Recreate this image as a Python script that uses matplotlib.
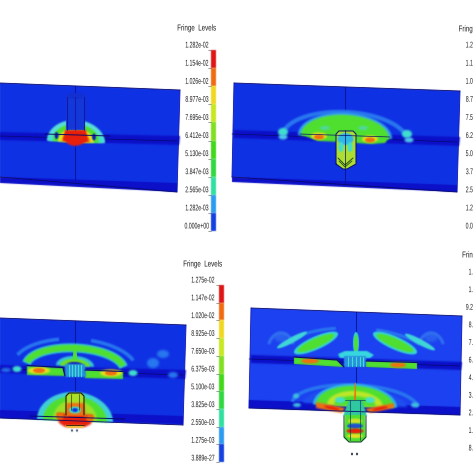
#!/usr/bin/python3
# fringe plots of the four stud/plate cases, drawn in image pixel coordinates
import numpy as np
import matplotlib
matplotlib.use("Agg")
import matplotlib.pyplot as plt
from matplotlib.patches import Polygon
from matplotlib.patheffects import AbstractPathEffect
from matplotlib.transforms import Affine2D

plt.rcParams['font.family'] = ['Liberation Sans', 'DejaVu Sans']

title = "Fringe  Levels"
levels_a = ["1.282e-02", "1.154e-02", "1.026e-02", "8.977e-03", "7.695e-03", "6.412e-03",
            "5.130e-03", "3.847e-03", "2.565e-03", "1.282e-03", "0.000e+00"]
# the right hand panels run off the picture, only these characters are visible
levels_b = ["1.2", "1.1", "1.0", "8.7", "7.5", "6.2", "5.0", "3.7", "2.5", "1.2", "0.0"]
title_b = "Fring"
levels_c = ["1.275e-02", "1.147e-02", "1.020e-02", "8.925e-03", "7.650e-03", "6.375e-03",
            "5.100e-03", "3.825e-03", "2.550e-03", "1.275e-03", "3.889e-27"]
levels_d = ["1.", "1.", "9.2", "8.", "7.", "6.", "4.", "3.", "2.", "1.", "8."]
title_d = "Frin"

# fringe colours, top of the bar to the bottom
bar_colors = ['#e01414', '#f06a10', '#f0d820', '#c8e820', '#80e020', '#40d818',
              '#30d840', '#30e0a0', '#2c9cf0', '#1440e0']

RED, ORANGE, YELLOW, LIME, GREEN, CYAN, PALE, PLATE, DARK = (
    '#e8200c', '#f07010', '#e8e020', '#a8e828', '#50e030', '#40e0d0', '#2878f0', '#0e30e4', '#0c10c8')
LINE = '#08086a'


def blur(sigma):
    # gaussian blur for agg_filter, so the edges go soft like the scanned figure
    def flt(img, dpi):
        s = sigma * dpi / 100.
        pad = int(3 * s) + 1
        x = np.arange(-pad, pad + 1)
        k = np.exp(-x ** 2 / (2 * s ** 2))
        k /= k.sum()
        h, w = img.shape[:2]
        out = np.zeros((h + 2 * pad, w + 2 * pad, 4))
        a = img[..., 3:]
        out[pad:pad + h, pad:pad + w, :3] = img[..., :3] * a
        out[pad:pad + h, pad:pad + w, 3] = a[..., 0]
        out = np.apply_along_axis(np.convolve, 0, out, k, mode='same')
        out = np.apply_along_axis(np.convolve, 1, out, k, mode='same')
        al = np.clip(out[..., 3:], 1e-4, None)
        out[..., :3] = np.clip(out[..., :3] / al, 0, 1)
        return out, -pad, -pad
    return flt


class Squeeze(AbstractPathEffect):
    # narrows the glyphs about the text anchor, the figure uses a condensed face
    def __init__(self, x_disp, factor):
        super().__init__()
        self.x_disp = x_disp
        self.factor = factor

    def draw_path(self, renderer, gc, tpath, affine, rgbFace=None):
        squeeze = Affine2D().translate(-self.x_disp, 0).scale(self.factor, 1).translate(self.x_disp, 0)
        renderer.draw_path(gc, tpath, affine + squeeze, rgbFace)


fig = plt.figure(figsize=(4.74, 4.74), dpi=100)
ax = fig.add_axes([0, 0, 1, 1])
ax.set_xlim(0, 474)
ax.set_ylim(474, 0)
ax.axis('off')


def poly(pts, color, soft=0.8, z=3):
    p = Polygon(pts, closed=True, fc=color, ec='none', zorder=z)
    p.set_agg_filter(blur(soft))
    ax.add_patch(p)


def line(xs, ys, color=LINE, lw=0.8, z=6):
    l, = ax.plot(xs, ys, color=color, lw=lw, zorder=z, solid_capstyle='round')
    l.set_agg_filter(blur(0.35))


def dome(cx, cy, rx, ry, color, soft=0.8, slope=0.04, z=3):
    # half ellipse sitting on the tilted band
    t = np.linspace(0, np.pi, 40)
    x = rx * np.cos(t)
    y = -ry * np.sin(t)
    poly(np.c_[cx + x, cy + y + slope * x], color, soft, z)


def blob(cx, cy, rx, ry, color, angle=0, soft=0.7, z=4):
    t = np.linspace(0, 2 * np.pi, 40)
    a = np.radians(angle)
    x = rx * np.cos(t)
    y = ry * np.sin(t)
    poly(np.c_[cx + x * np.cos(a) - y * np.sin(a), cy + x * np.sin(a) + y * np.cos(a)], color, soft, z)


def arc(cx, cy, rx, ry, color, lw=2.5, t0=15, t1=165, slope=0.04, z=3):
    t = np.radians(np.linspace(t0, t1, 40))
    x = rx * np.cos(t)
    l, = ax.plot(cx + x, cy - ry * np.sin(t) + slope * x, color=color, lw=lw, zorder=z,
                 solid_capstyle='butt')
    l.set_agg_filter(blur(0.8))


def plate(tl, tr, br, bl, band_l, band_r, low_l, low_r, vx, color=PLATE):
    poly([tl, tr, br, bl], color, 0.4, 1)
    poly([(tl[0], band_l[0]), (tr[0], band_r[0]), (tr[0] - 1, band_r[1]), (tl[0], band_l[1])], DARK, 0.8, 2)
    poly([(bl[0], low_l[0]), (br[0], low_r[0]), (br[0], low_r[1]), (bl[0], low_l[1])], DARK, 0.5, 2)
    line([tl[0], tr[0]], [tl[1], tr[1]], LINE, 0.6)
    line([bl[0], br[0]], [bl[1], br[1]], LINE, 0.6)
    if tl[0] > 5:
        line([tl[0], bl[0]], [tl[1], bl[1]], '#0a10b0', 0.6)
    line([tr[0], br[0]], [tr[1], br[1]], '#0a10b0', 0.6)
    line([bl[0], br[0]], [band_l[1] - 4, band_r[1] - 4], LINE, 0.5, 2.5)
    line([vx, vx], [tl[1] + (vx - tl[0]) * 0.035, bl[1] + (vx - bl[0]) * 0.065], '#0a14a0', 0.7, 2.5)


def write(labels, head, lx, ly0, ly1, tx, ty, ha='center'):
    for lab, y in zip(labels, np.linspace(ly0, ly1, len(labels))):
        put(lx, y, lab, 6.0, ha, 0.62)
    put(tx, ty, head, 6.2, ha, 0.72)


def put(x, y, s, size, ha, factor):
    t = ax.text(x, y, s, fontsize=size, ha=ha, va='center', color='#1a1a1a', zorder=7)
    t.set_path_effects([Squeeze(ax.transData.transform((x, y))[0], factor)])
    t.set_agg_filter(blur(0.3))


def fringe_bar(x0, x1, y0, y1):
    edges = np.linspace(y0, y1, len(bar_colors) + 1)
    for c, a, b in zip(bar_colors, edges[:-1], edges[1:]):
        poly([(x0, a), (x1, a), (x1, b), (x0, b)], c, 0.6, 2)
    for e in edges:
        line([x0 - 3, x0], [e, e], '#505050', 0.4)


# ---- top left
plate((0, 83), (180, 90), (177, 192), (0, 177), (132, 140), (136, 145), (177, 183), (183, 192), 75)
dome(76, 142, 29, 22, '#58e0d8')
dome(76, 142, 24, 18, GREEN)
dome(76, 142, 18, 14, YELLOW)
dome(76, 142, 14, 11, ORANGE)
poly([(65, 130), (86, 130), (88, 141), (80, 145), (75, 146), (70, 145), (63, 140)], RED, 0.8, 4)
blob(56.5, 135.5, 1.8, 3.5, DARK)
blob(94, 137, 1.8, 3.5, DARK)
blob(51, 138, 2.5, 3, CYAN, soft=1)
blob(101, 140, 2.5, 3, CYAN, soft=1)
poly([(66, 97), (85, 97), (85, 130), (66, 130)], '#1438d8', 0.5, 5)
blob(75.5, 96, 9.5, 3, '#1430d0', soft=0.5, z=5)
line([67, 67], [97, 130], '#1010a0', 0.6)
line([84, 84], [97, 130], '#1010a0', 0.6)
line([75, 75], [97, 130], '#1010a0', 0.5)
line([45, 110], [134, 136], LINE, 0.7)
fringe_bar(211.5, 216.5, 50, 231)
write(levels_a, title, 197, 46, 227, 197, 28)

# ---- top right
plate((234, 83), (460, 91), (457, 192), (232, 177), (130, 138), (137, 146), (177, 182), (185, 192), 345)
arc(345, 140, 63, 28, PALE, 3.0)
blob(283, 132, 5, 4, CYAN, soft=1)
blob(283, 137, 4.5, 2.5, '#50c8f0', soft=1)
blob(407, 134, 5, 4, CYAN, soft=1)
blob(409, 140, 4.5, 2.5, '#50c8f0', soft=1)
dome(345, 137, 47, 24, '#38b0e8', soft=1.0)
dome(345, 137, 44, 22, GREEN)
blob(325, 128, 5, 2, '#50d8a0', soft=1)
blob(363, 128, 5, 2, '#50d8a0', soft=1)
poly([(300, 134), (390, 137), (385, 143), (372, 144), (340, 142), (318, 141)], GREEN, 0.8, 3)
blob(319, 137, 5, 2.5, ORANGE)
blob(370, 140, 5, 2.5, ORANGE)
blob(319, 136, 8, 3.5, YELLOW, soft=1, z=3)
blob(370, 139, 8, 3.5, YELLOW, soft=1, z=3)
line([300, 390], [134, 137], LINE, 0.5)
poly([(336, 134), (339, 131), (353, 131), (356, 134), (356, 164), (347, 169), (343, 169), (336, 164)],
     '#b0e030', 0.4, 5)
blob(345.5, 139, 8, 6, '#30b8e8', z=5)
blob(341, 147, 2.5, 5, CYAN, z=5)
blob(350, 147, 2.5, 5, CYAN, z=5)
line([336, 336, 339, 353, 356, 356, 347, 343, 336], [164, 134, 131, 131, 134, 164, 169, 169, 164], LINE, 0.7)
line([345, 345], [130, 168], LINE, 0.5)
line([338, 345, 353], [158, 165, 158], '#0a3010', 0.6)
line([339, 345, 352], [161, 167, 161], '#0a3010', 0.5)
write(levels_b, title_b, 473, 46, 227, 473, 29, ha='right')

# ---- bottom left
plate((0, 318), (186, 325), (183, 425), (0, 418), (365, 373), (370, 379), (410, 418), (416, 424), 75)
arc(75, 368, 62, 29, PALE, 2.5, 20, 75)
arc(75, 368, 62, 29, PALE, 2.5, 105, 158)
arc(75, 368, 49, 20, '#38c8d0', 6.5, 8, 172)
arc(75, 368, 49, 20, GREEN, 4.2, 12, 168)
dome(75, 366, 19, 10, '#38c8d0')
dome(75, 366, 15, 7, '#70e020')
dome(75, 365, 8, 3, DARK)
poly([(74, 345), (76, 345), (77.5, 360), (72.5, 360)], GREEN, 0.4, 4)
for cx, cy in [(17, 369), (133, 373)]:
    blob(cx, cy, 4.5, 3, CYAN, soft=1)
for cx, cy, rx, ry in [(153, 363, 6, 5), (163, 354, 6, 4), (173, 375, 5, 3), (6, 370, 5, 2)]:
    blob(cx, cy, rx, ry, PALE, soft=1.2)
poly([(27, 366), (63, 368), (65, 376), (27, 375)], GREEN, 0.7, 4)
poly([(85, 370), (123, 371), (123, 379), (85, 378)], GREEN, 0.7, 4)
blob(39, 370.5, 11, 3.5, YELLOW, soft=1)
blob(111, 373, 11, 3.5, YELLOW, soft=1)
blob(39, 370.5, 6, 2.5, ORANGE)
blob(111, 373, 6, 2.5, ORANGE)
line([27, 63, 65], [365.5, 367.5, 376], LINE, 0.8)
line([85, 123], [370, 371.5], LINE, 0.8)
poly([(65, 364), (85, 364), (86, 377), (65, 377)], '#2890e0', 0.8, 5)
for x in [69, 72, 75, 78, 81]:
    line([x, x], [365, 376], CYAN, 0.9)
dome(75, 421, 38, 29, '#40d0d8')
dome(75, 421, 32, 25, GREEN)
dome(75, 420, 22, 20, '#a0e028', 1.0)
poly([(57, 413), (93, 415), (91, 424), (85, 427), (65, 427), (59, 423)], RED, 1.0, 4)
blob(60, 416, 4, 3.5, ORANGE, soft=1)
blob(90, 418, 4, 3.5, ORANGE, soft=1)
poly([(66, 396), (69, 393), (81, 393), (84, 396), (85, 415), (66, 415)], '#a8e028', 0.6, 5)
poly([(67, 403), (84, 403), (86, 417), (65, 417)], ORANGE, 1.0, 5)
blob(75, 410, 6, 3.5, CYAN, z=6)
blob(75, 410, 3, 2, PLATE, z=6)
poly([(68, 416), (84, 416), (84, 426), (68, 426)], RED, 0.8, 5)
line([66, 66, 69, 81, 84, 84], [415, 396, 393, 393, 396, 415], '#201000', 0.8)
line([71, 71], [394, 410], '#201000', 0.4)
line([79, 79], [394, 410], '#201000', 0.4)
line([30, 125], [416, 419], LINE, 0.7)
poly([(65, 425), (85, 425), (83, 428), (67, 428)], '#f0c040', 0.6, 5)
line([66, 84], [425, 425], '#201000', 0.6)
blob(72, 430.5, 1, 1.2, '#304070', soft=0.5)
blob(77, 430.5, 1, 1.2, '#304070', soft=0.5)
fringe_bar(219, 224, 285, 462)
write(levels_c, title, 203, 281, 459, 203, 264)

# ---- bottom right
plate((251, 308), (462, 316), (460, 415), (249, 408), (355, 363), (362, 370), (400, 408), (407, 415), 356,
      color='#1a40f0')
for cx in [281, 431]:
    blob(cx, 337, 7, 5, '#2a60f0', soft=1.4, z=2)
    arc(cx, 350, 13, 17, '#3070f0', 2.2, 20, 160, 0, 2)
arc(356, 360, 78, 32, PALE, 2.2, 35, 75)
arc(356, 360, 78, 32, PALE, 2.2, 105, 145)
blob(292, 340, 17, 2.8, '#40d8d8', -28)
blob(420, 342, 17, 2.8, '#40d8d8', 28)
blob(316, 343, 24, 6.5, '#38d8d0', -24)
blob(395, 343, 24, 6.5, '#38d8d0', 24)
blob(316, 343, 20, 4.5, GREEN, -24)
blob(395, 343, 20, 4.5, GREEN, 24)
blob(356, 343, 3, 11, '#38d8c0', soft=0.5)
blob(356, 344, 1.8, 9, GREEN, soft=0.4)
poly([(338, 354), (345, 351), (367, 351), (374, 355), (370, 358), (340, 358)], '#38d8e0', 0.7, 4)
poly([(294, 357), (337, 360), (344, 367), (294, 364)], GREEN, 0.5, 4)
poly([(366, 361), (417, 362), (417, 369), (366, 367)], GREEN, 0.5, 4)
blob(310, 361, 9, 2.5, ORANGE, soft=0.9)
blob(398, 365, 8, 2.5, ORANGE, soft=0.9)
line([294, 337, 344], [357, 360, 367], LINE, 0.8)
line([366, 417], [361, 362.5], LINE, 0.8)
poly([(344, 356), (366, 356), (366, 367), (344, 367)], '#2890e0', 0.7, 5)
for x in [348, 352, 356, 360, 363]:
    line([x, x], [357, 366], CYAN, 0.8)
arc(355, 406, 63, 21, PALE, 2.5, 5, 175)
dome(355, 405, 52, 16, '#2050f0', 1.2, z=2)
dome(355, 406, 42, 22, '#30b8e8')
dome(355, 406, 39, 20, GREEN)
dome(355, 406, 28, 15, '#c0e828', 1.0)
dome(355, 406, 21, 10, GREEN, 1.0)
blob(340, 400, 5, 3, CYAN, soft=1)
blob(370, 400, 5, 3, CYAN, soft=1)
blob(296, 396, 3, 2.5, '#40c0e0', soft=1)
blob(297, 405, 4, 2, '#40c0e0', soft=1)
blob(415, 405, 4, 2.5, '#40c0e0', soft=1)
poly([(316, 402), (345, 408), (342, 413), (316, 408)], ORANGE, 1.0, 4)
poly([(394, 403), (365, 409), (370, 413), (394, 408)], ORANGE, 1.0, 4)
blob(332, 408, 8, 1.4, RED, 12, 0.8, 4)
blob(380, 408.5, 8, 1.4, RED, -12, 0.8, 4)
poly([(355, 383), (356.5, 383), (356.5, 400), (354, 400)], ORANGE, 0.4, 5)
poly([(349, 400), (362, 400), (367, 416), (343, 416)], '#30c8a0', 0.6, 5)
poly([(345, 415), (365, 415), (366, 438), (361, 442), (349, 442), (344, 438)], GREEN, 0.5, 5)
blob(355, 421, 7, 2.5, '#d0e028', z=6)
blob(355, 426, 8, 2.5, '#2050d0', z=6)
blob(355, 431, 8.5, 2.5, RED, z=6)
blob(355, 436, 8, 2, YELLOW, z=6)
line([344, 344, 349, 361, 366, 366], [416, 437, 442, 442, 437, 416], '#103030', 0.7)
line([350, 350], [400, 440], '#104060', 0.5)
line([360, 360], [400, 440], '#104060', 0.5)
line([345, 365], [400, 400], '#104060', 0.5)
blob(352, 454, 1, 1.3, '#202840', soft=0.4)
blob(357, 454, 1, 1.3, '#202840', soft=0.4)
write(levels_d, title_d, 473, 273, 449, 473, 255, ha='right')

fig.savefig("out.png", dpi=100)
